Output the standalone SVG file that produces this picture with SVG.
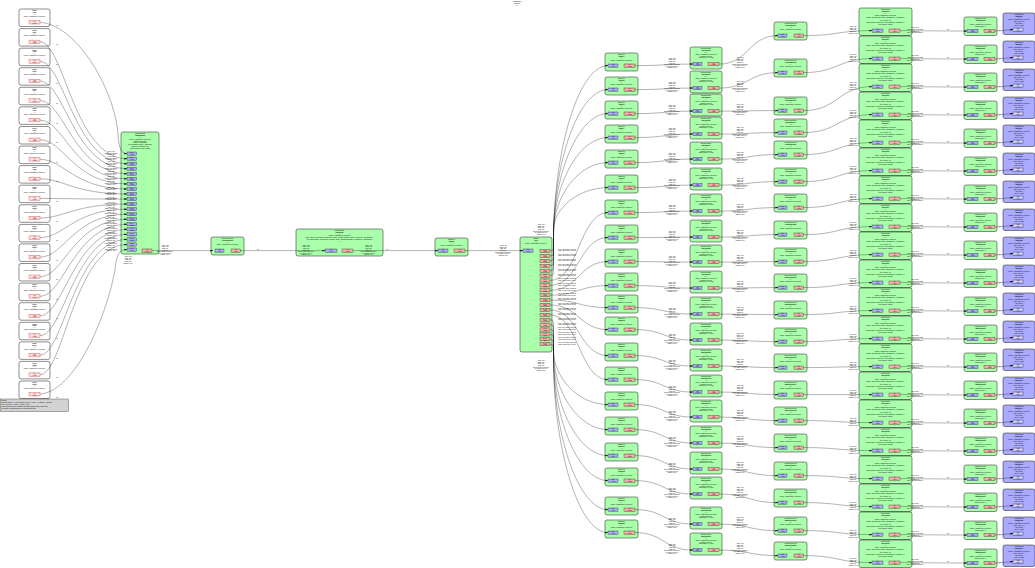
<svg xmlns="http://www.w3.org/2000/svg" width="1035" height="568" viewBox="0 0 1035 568">
<style>
.t{font-family:"Liberation Sans",Arial,sans-serif;font-size:1.6px;text-anchor:middle;fill:#000}
.s{font-size:1.3px}
.b{font-weight:bold}
.l{text-anchor:start;font-size:1.55px}
.nb{fill:#fff;stroke:#000;stroke-width:.45}
.ne{fill:#aaffaa;stroke:#000;stroke-width:.45}
.nk{fill:#aaaaff;stroke:#000;stroke-width:.45}
.ps{fill:#aaaaff;stroke:#000;stroke-width:.3}
.pk{fill:#ccccff;stroke:#000;stroke-width:.3}
.pr{fill:#ffaaaa;stroke:#000;stroke-width:.3}
.pg{fill:#ffdddd;stroke:#cc3333;stroke-width:.35}
</style>
<defs>
<marker id="ah" markerUnits="userSpaceOnUse" markerWidth="2.6" markerHeight="2" refX="2.6" refY="1" orient="auto" viewBox="0 0 2.6 2"><path d="M0,0L2.6,1L0,2z" fill="#000" stroke="none"/></marker>
<g id="tA"><rect class="nb" width="31" height="17.5" rx="2"/><text class="t" x="15.5" y="2.4">GstBin</text><text class="t" x="15.5" y="6">[&gt;]</text><text class="t" x="15.5" y="7.8">parent=(GstPipeline) pipeline0</text><rect class="pg" x="10" y="11.5" width="11" height="3.5"/><text class="t s" x="15.5" y="13">src</text><text class="t s" x="15.5" y="14.5">[&gt;][bfb]</text></g>
<g id="tB"><rect class="ne" width="33" height="18" rx="2"/><text class="t" x="16.5" y="2.4">GstQueue</text><text class="t" x="16.5" y="6">[&gt;]</text><text class="t" x="16.5" y="7.8">parent=(GstPipeline) pipeline0</text><rect class="ps" x="3" y="11" width="10" height="3.2"/><text class="t s" x="8" y="12.4">sink</text><text class="t s" x="8" y="13.8">[&gt;][bfb]</text><rect class="pr" x="19" y="11" width="11" height="3.2"/><text class="t s" x="24.5" y="12.4">src</text><text class="t s" x="24.5" y="13.8">[&gt;][bfbT]</text></g>
<g id="tC"><rect class="ne" width="32" height="22" rx="2"/><text class="t" x="16" y="2.4">GstVideoScale</text><text class="t" x="16" y="6">[&gt;]</text><text class="t" x="16" y="7.8">parent=(GstPipeline) pipeline0</text><text class="t" x="16" y="9.6">method=bilinear</text><text class="t" x="16" y="11.4">add-borders=FALSE</text><rect class="ps" x="3" y="15.5" width="9" height="3.2"/><text class="t s" x="7.5" y="16.9">sink</text><text class="t s" x="7.5" y="18.3">[&gt;][bfb]</text><rect class="pr" x="18" y="15.5" width="11" height="3.2"/><text class="t s" x="23.5" y="16.9">src</text><text class="t s" x="23.5" y="18.3">[&gt;][bfb]</text></g>
<g id="tD"><rect class="ne" width="33" height="18" rx="2"/><text class="t" x="16.5" y="2.4">GstVideoConvert</text><text class="t" x="16.5" y="6">[&gt;]</text><text class="t" x="16.5" y="7.8">parent=(GstPipeline) pipeline0</text><rect class="ps" x="4" y="12" width="9" height="3.2"/><text class="t s" x="8.5" y="13.4">sink</text><text class="t s" x="8.5" y="14.8">[&gt;][bfb]</text><rect class="pr" x="20" y="12" width="9.5" height="3.2"/><text class="t s" x="24.75" y="13.4">src</text><text class="t s" x="24.75" y="14.8">[&gt;][bfb]</text></g>
<g id="tE"><rect class="ne" width="53" height="27.5" rx="2"/><text class="t" x="26.5" y="2">GstX264Enc</text><text class="t" x="26.5" y="6.2">[&gt;]</text><text class="t" x="26.5" y="8.3">parent=(GstPipeline) pipeline0</text><text class="t" x="26.5" y="10.4">bitrate=2048  speed-preset=ultrafast  tune=zerolatency</text><text class="t" x="26.5" y="12.5">key-int-max=30</text><text class="t" x="26.5" y="14.6">option-string="scenecut=0:rc-lookahead=0:bframes=0"</text><text class="t" x="26.5" y="16.7">byte-stream=TRUE</text><rect class="ps" x="13" y="21" width="11" height="3.2"/><text class="t s" x="18.5" y="22.4">sink</text><text class="t s" x="18.5" y="23.8">[&gt;][bfb]</text><rect class="pr" x="30" y="21" width="11" height="3.2"/><text class="t s" x="35.5" y="22.4">src</text><text class="t s" x="35.5" y="23.8">[&gt;][bfb]</text></g>
<g id="tF"><rect class="ne" width="33" height="18.5" rx="2"/><text class="t" x="16.5" y="2.4">GstRtpH264Pay</text><text class="t" x="16.5" y="6">[&gt;]</text><text class="t" x="16.5" y="7.8">parent=(GstPipeline) pipeline0</text><text class="t" x="16.5" y="9.6">config-interval=1</text><rect class="ps" x="3" y="12.5" width="11" height="3.2"/><text class="t s" x="8.5" y="13.9">sink</text><text class="t s" x="8.5" y="15.3">[&gt;][bfb]</text><rect class="pr" x="20" y="12.5" width="11" height="3.2"/><text class="t s" x="25.5" y="13.9">src</text><text class="t s" x="25.5" y="15.3">[&gt;][bfb]</text></g>
<g id="tG"><rect class="nk" width="32" height="21.5" rx="2"/><text class="t" x="16" y="2">GstUDPSink</text><text class="t" x="16" y="5.6">[&gt;]</text><text class="t" x="16" y="7.4">parent=(GstPipeline) pipeline0</text><text class="t" x="16" y="9.2">host=127.0.0.1</text><text class="t" x="16" y="12.8">sync=FALSE</text><rect class="pk" x="10" y="15" width="10" height="3.2"/><text class="t s" x="15" y="16.4">sink</text><text class="t s" x="15" y="17.8">[&gt;][bfb]</text></g>
<g id="lA"><text class="t s" y="1.2">ANY</text></g>
<g id="lM"><text class="t s" y="1.2">video/x-raw</text><text class="t s" y="2.6">format: I420, 320x240</text><text class="t s" y="4">framerate: 30/1</text></g>
<g id="l2"><text class="t s" y="1.2">video/x-raw, format=(string)I420</text><text class="t s" y="2.6">width=(int)320, height=(int)240</text></g>
<g id="l7"><text class="t s" y="1.2">video/x-raw</text><text class="t s" y="2.8">format: I420</text><text class="t s" y="4.4">width: 320</text><text class="t s" y="6">height: 240</text><text class="t s" y="7.6">interlace-mode: progressive</text><text class="t s" y="9.2">pixel-aspect-ratio: 1/1</text><text class="t s" y="10.8">framerate: 30/1</text></g>
<g id="l5"><text class="t s" y="1.2">video/x-raw</text><text class="t s" y="2.8">format: I420</text><text class="t s" y="4.4">width: 320</text><text class="t s" y="6">height: 240</text><text class="t s" y="7.6">framerate: 30/1</text></g>
<g id="lH"><text class="t s" y="1.2">video/x-h264</text><text class="t s" y="2.8">stream-format: byte-stream</text><text class="t s" y="4.4">alignment: au</text><text class="t s" y="6">profile: constrained-baseline</text></g>
</defs>
<rect width="1035" height="568" fill="#fff"/>
<g id="title"><text class="t" x="517" y="2.2">&lt;GstPipeline&gt;</text><text class="t" x="517" y="3.9">pipeline0</text><text class="t" x="517" y="5.6">[&gt;]</text></g>

<g id="bin0" transform="translate(19,9)"><use href="#tA"/><text class="t b" x="15.5" y="4.2">bin0</text></g>
<g id="bin1" transform="translate(19,28.6)"><use href="#tA"/><text class="t b" x="15.5" y="4.2">bin1</text></g>
<g id="bin2" transform="translate(19,48.2)"><use href="#tA"/><text class="t b" x="15.5" y="4.2">bin2</text></g>
<g id="bin3" transform="translate(19,67.7)"><use href="#tA"/><text class="t b" x="15.5" y="4.2">bin3</text></g>
<g id="bin4" transform="translate(19,87.3)"><use href="#tA"/><text class="t b" x="15.5" y="4.2">bin4</text></g>
<g id="bin5" transform="translate(19,106.9)"><use href="#tA"/><text class="t b" x="15.5" y="4.2">bin5</text></g>
<g id="bin6" transform="translate(19,126.5)"><use href="#tA"/><text class="t b" x="15.5" y="4.2">bin6</text></g>
<g id="bin7" transform="translate(19,146.1)"><use href="#tA"/><text class="t b" x="15.5" y="4.2">bin7</text></g>
<g id="bin8" transform="translate(19,165.6)"><use href="#tA"/><text class="t b" x="15.5" y="4.2">bin8</text></g>
<g id="bin9" transform="translate(19,185.2)"><use href="#tA"/><text class="t b" x="15.5" y="4.2">bin9</text></g>
<g id="bin10" transform="translate(19,204.8)"><use href="#tA"/><text class="t b" x="15.5" y="4.2">bin10</text></g>
<g id="bin11" transform="translate(19,224.4)"><use href="#tA"/><text class="t b" x="15.5" y="4.2">bin11</text></g>
<g id="bin12" transform="translate(19,243.9)"><use href="#tA"/><text class="t b" x="15.5" y="4.2">bin12</text></g>
<g id="bin13" transform="translate(19,263.5)"><use href="#tA"/><text class="t b" x="15.5" y="4.2">bin13</text></g>
<g id="bin14" transform="translate(19,283.1)"><use href="#tA"/><text class="t b" x="15.5" y="4.2">bin14</text></g>
<g id="bin15" transform="translate(19,302.7)"><use href="#tA"/><text class="t b" x="15.5" y="4.2">bin15</text></g>
<g id="bin16" transform="translate(19,322.3)"><use href="#tA"/><text class="t b" x="15.5" y="4.2">bin16</text></g>
<g id="bin17" transform="translate(19,341.9)"><use href="#tA"/><text class="t b" x="15.5" y="4.2">bin17</text></g>
<g id="bin18" transform="translate(19,361.4)"><use href="#tA"/><text class="t b" x="15.5" y="4.2">bin18</text></g>
<g id="bin19" transform="translate(19,381)"><use href="#tA"/><text class="t b" x="15.5" y="4.2">bin19</text></g>

<g id="compositor0">
<rect class="ne" x="121" y="132" width="38" height="122" rx="2"/>
<text class="t" x="140" y="134.3">GstCompositor</text>
<text class="t b" x="140" y="136.1">compositor0</text>
<text class="t" x="140" y="137.9">[&gt;]</text>
<text class="t" x="140" y="139.7">parent=(GstPipeline) pipeline0</text>
<text class="t" x="140" y="141.5">background=black</text>
<text class="t" x="140" y="143.3">latency=33333333</text>
<text class="t" x="140" y="145.1">min-upstream-latency=33333333</text>
<text class="t" x="140" y="146.9">start-time-selection=first</text>
<text class="t" x="140" y="148.7">ignore-inactive-pads=TRUE</text>
<rect class="ps" x="127" y="152" width="9.5" height="3.2"/><text class="t s" x="131.75" y="153.4">sink_0</text><text class="t s" x="131.75" y="154.8">[&gt;][bfb]</text>
<rect class="ps" x="127" y="157.05" width="9.5" height="3.2"/><text class="t s" x="131.75" y="158.45">sink_1</text><text class="t s" x="131.75" y="159.85">[&gt;][bfb]</text>
<rect class="ps" x="127" y="162.1" width="9.5" height="3.2"/><text class="t s" x="131.75" y="163.5">sink_2</text><text class="t s" x="131.75" y="164.9">[&gt;][bfb]</text>
<rect class="ps" x="127" y="167.15" width="9.5" height="3.2"/><text class="t s" x="131.75" y="168.55">sink_3</text><text class="t s" x="131.75" y="169.95">[&gt;][bfb]</text>
<rect class="ps" x="127" y="172.2" width="9.5" height="3.2"/><text class="t s" x="131.75" y="173.6">sink_4</text><text class="t s" x="131.75" y="175">[&gt;][bfb]</text>
<rect class="ps" x="127" y="177.25" width="9.5" height="3.2"/><text class="t s" x="131.75" y="178.65">sink_5</text><text class="t s" x="131.75" y="180.05">[&gt;][bfb]</text>
<rect class="ps" x="127" y="182.3" width="9.5" height="3.2"/><text class="t s" x="131.75" y="183.7">sink_6</text><text class="t s" x="131.75" y="185.1">[&gt;][bfb]</text>
<rect class="ps" x="127" y="187.35" width="9.5" height="3.2"/><text class="t s" x="131.75" y="188.75">sink_7</text><text class="t s" x="131.75" y="190.15">[&gt;][bfb]</text>
<rect class="ps" x="127" y="192.4" width="9.5" height="3.2"/><text class="t s" x="131.75" y="193.8">sink_8</text><text class="t s" x="131.75" y="195.2">[&gt;][bfb]</text>
<rect class="ps" x="127" y="197.45" width="9.5" height="3.2"/><text class="t s" x="131.75" y="198.85">sink_9</text><text class="t s" x="131.75" y="200.25">[&gt;][bfb]</text>
<rect class="ps" x="127" y="202.5" width="9.5" height="3.2"/><text class="t s" x="131.75" y="203.9">sink_10</text><text class="t s" x="131.75" y="205.3">[&gt;][bfb]</text>
<rect class="ps" x="127" y="207.55" width="9.5" height="3.2"/><text class="t s" x="131.75" y="208.95">sink_11</text><text class="t s" x="131.75" y="210.35">[&gt;][bfb]</text>
<rect class="ps" x="127" y="212.6" width="9.5" height="3.2"/><text class="t s" x="131.75" y="214">sink_12</text><text class="t s" x="131.75" y="215.4">[&gt;][bfb]</text>
<rect class="ps" x="127" y="217.65" width="9.5" height="3.2"/><text class="t s" x="131.75" y="219.05">sink_13</text><text class="t s" x="131.75" y="220.45">[&gt;][bfb]</text>
<rect class="ps" x="127" y="222.7" width="9.5" height="3.2"/><text class="t s" x="131.75" y="224.1">sink_14</text><text class="t s" x="131.75" y="225.5">[&gt;][bfb]</text>
<rect class="ps" x="127" y="227.75" width="9.5" height="3.2"/><text class="t s" x="131.75" y="229.15">sink_15</text><text class="t s" x="131.75" y="230.55">[&gt;][bfb]</text>
<rect class="ps" x="127" y="232.8" width="9.5" height="3.2"/><text class="t s" x="131.75" y="234.2">sink_16</text><text class="t s" x="131.75" y="235.6">[&gt;][bfb]</text>
<rect class="ps" x="127" y="237.85" width="9.5" height="3.2"/><text class="t s" x="131.75" y="239.25">sink_17</text><text class="t s" x="131.75" y="240.65">[&gt;][bfb]</text>
<rect class="ps" x="127" y="242.9" width="9.5" height="3.2"/><text class="t s" x="131.75" y="244.3">sink_18</text><text class="t s" x="131.75" y="245.7">[&gt;][bfb]</text>
<rect class="ps" x="127" y="247.95" width="9.5" height="3.2"/><text class="t s" x="131.75" y="249.35">sink_19</text><text class="t s" x="131.75" y="250.75">[&gt;][bfb]</text>
<rect class="pr" x="142" y="249" width="10" height="3.2"/><text class="t s" x="147" y="250.4">src</text><text class="t s" x="147" y="251.8">[&gt;][bfbT]</text>
</g>

<g id="videoconvert0" transform="translate(211,237)"><use href="#tD"/><text class="t b" x="16.5" y="4.2">videoconvert0</text></g>
<g id="capsfilter0">
<rect class="ne" x="296" y="229" width="87" height="27" rx="2"/>
<text class="t" x="339.5" y="231">GstCapsFilter</text>
<text class="t b" x="339.5" y="232.8">capsfilter0</text>
<text class="t" x="339.5" y="234.6">[&gt;]</text>
<text class="t" x="339.5" y="236.4">parent=(GstPipeline) pipeline0</text>
<text class="t" x="339.5" y="238.2">caps=video/x-raw, format=(string)I420, width=(int)320, height=(int)240, framerate=(fraction)30/1,</text>
<text class="t" x="339.5" y="240">pixel-aspect-ratio=(fraction)1/1, interlace-mode=(string)progressive, colorimetry=(string)bt601</text>
<text class="t" x="339.5" y="241.8">[...]</text>
<rect class="ps" x="325" y="249" width="12" height="3.2"/><text class="t s" x="331" y="250.4">sink</text><text class="t s" x="331" y="251.8">[&gt;][bfb]</text>
<rect class="pr" x="342" y="249" width="11" height="3.2"/><text class="t s" x="347.5" y="250.4">src</text><text class="t s" x="347.5" y="251.8">[&gt;][bfb]</text>
</g>
<g id="queue0" transform="translate(435,238)"><use href="#tB"/><text class="t b" x="16.5" y="4.2">queue0</text></g>
<g id="tee0">
<rect class="ne" x="520" y="237" width="32" height="115" rx="2"/>
<text class="t" x="536" y="239">GstTee</text>
<text class="t b" x="536" y="240.8">tee0</text>
<text class="t" x="536" y="242.6">[&gt;]</text>
<text class="t" x="536" y="244.4">parent=(GstPipeline) pipeline0</text>
<rect class="ps" x="523" y="249" width="10" height="3.2"/><text class="t s" x="528" y="250.4">sink</text><text class="t s" x="528" y="251.8">[&gt;][bfb]</text>
<rect class="pr" x="540" y="249.5" width="10" height="3.2"/><text class="t s" x="545" y="250.9">src_0</text><text class="t s" x="545" y="252.3">[&gt;][bfb]</text>
<rect class="pr" x="540" y="254.4" width="10" height="3.2"/><text class="t s" x="545" y="255.8">src_1</text><text class="t s" x="545" y="257.2">[&gt;][bfb]</text>
<rect class="pr" x="540" y="259.3" width="10" height="3.2"/><text class="t s" x="545" y="260.7">src_2</text><text class="t s" x="545" y="262.1">[&gt;][bfb]</text>
<rect class="pr" x="540" y="264.2" width="10" height="3.2"/><text class="t s" x="545" y="265.6">src_3</text><text class="t s" x="545" y="267">[&gt;][bfb]</text>
<rect class="pr" x="540" y="269.1" width="10" height="3.2"/><text class="t s" x="545" y="270.5">src_4</text><text class="t s" x="545" y="271.9">[&gt;][bfb]</text>
<rect class="pr" x="540" y="274" width="10" height="3.2"/><text class="t s" x="545" y="275.4">src_5</text><text class="t s" x="545" y="276.8">[&gt;][bfb]</text>
<rect class="pr" x="540" y="278.9" width="10" height="3.2"/><text class="t s" x="545" y="280.3">src_6</text><text class="t s" x="545" y="281.7">[&gt;][bfb]</text>
<rect class="pr" x="540" y="283.8" width="10" height="3.2"/><text class="t s" x="545" y="285.2">src_7</text><text class="t s" x="545" y="286.6">[&gt;][bfb]</text>
<rect class="pr" x="540" y="288.7" width="10" height="3.2"/><text class="t s" x="545" y="290.1">src_8</text><text class="t s" x="545" y="291.5">[&gt;][bfb]</text>
<rect class="pr" x="540" y="293.6" width="10" height="3.2"/><text class="t s" x="545" y="295">src_9</text><text class="t s" x="545" y="296.4">[&gt;][bfb]</text>
<rect class="pr" x="540" y="298.5" width="10" height="3.2"/><text class="t s" x="545" y="299.9">src_10</text><text class="t s" x="545" y="301.3">[&gt;][bfb]</text>
<rect class="pr" x="540" y="303.4" width="10" height="3.2"/><text class="t s" x="545" y="304.8">src_11</text><text class="t s" x="545" y="306.2">[&gt;][bfb]</text>
<rect class="pr" x="540" y="308.3" width="10" height="3.2"/><text class="t s" x="545" y="309.7">src_12</text><text class="t s" x="545" y="311.1">[&gt;][bfb]</text>
<rect class="pr" x="540" y="313.2" width="10" height="3.2"/><text class="t s" x="545" y="314.6">src_13</text><text class="t s" x="545" y="316">[&gt;][bfb]</text>
<rect class="pr" x="540" y="318.1" width="10" height="3.2"/><text class="t s" x="545" y="319.5">src_14</text><text class="t s" x="545" y="320.9">[&gt;][bfb]</text>
<rect class="pr" x="540" y="323" width="10" height="3.2"/><text class="t s" x="545" y="324.4">src_15</text><text class="t s" x="545" y="325.8">[&gt;][bfb]</text>
<rect class="pr" x="540" y="327.9" width="10" height="3.2"/><text class="t s" x="545" y="329.3">src_16</text><text class="t s" x="545" y="330.7">[&gt;][bfb]</text>
<rect class="pr" x="540" y="332.8" width="10" height="3.2"/><text class="t s" x="545" y="334.2">src_17</text><text class="t s" x="545" y="335.6">[&gt;][bfb]</text>
<rect class="pr" x="540" y="337.7" width="10" height="3.2"/><text class="t s" x="545" y="339.1">src_18</text><text class="t s" x="545" y="340.5">[&gt;][bfb]</text>
<rect class="pr" x="540" y="342.6" width="10" height="3.2"/><text class="t s" x="545" y="344">src_19</text><text class="t s" x="545" y="345.4">[&gt;][bfb]</text>
</g>

<g id="queue1" transform="translate(605,53)"><use href="#tB"/><text class="t b" x="16.5" y="4.2">queue1</text></g>
<g id="queue2" transform="translate(605,77)"><use href="#tB"/><text class="t b" x="16.5" y="4.2">queue2</text></g>
<g id="queue3" transform="translate(605,101)"><use href="#tB"/><text class="t b" x="16.5" y="4.2">queue3</text></g>
<g id="queue4" transform="translate(605,125)"><use href="#tB"/><text class="t b" x="16.5" y="4.2">queue4</text></g>
<g id="queue5" transform="translate(605,150)"><use href="#tB"/><text class="t b" x="16.5" y="4.2">queue5</text></g>
<g id="queue6" transform="translate(605,175)"><use href="#tB"/><text class="t b" x="16.5" y="4.2">queue6</text></g>
<g id="queue7" transform="translate(605,200)"><use href="#tB"/><text class="t b" x="16.5" y="4.2">queue7</text></g>
<g id="queue8" transform="translate(605,225)"><use href="#tB"/><text class="t b" x="16.5" y="4.2">queue8</text></g>
<g id="queue9" transform="translate(605,249)"><use href="#tB"/><text class="t b" x="16.5" y="4.2">queue9</text></g>
<g id="queue10" transform="translate(605,273)"><use href="#tB"/><text class="t b" x="16.5" y="4.2">queue10</text></g>
<g id="queue11" transform="translate(605,295)"><use href="#tB"/><text class="t b" x="16.5" y="4.2">queue11</text></g>
<g id="queue12" transform="translate(605,317)"><use href="#tB"/><text class="t b" x="16.5" y="4.2">queue12</text></g>
<g id="queue13" transform="translate(605,343)"><use href="#tB"/><text class="t b" x="16.5" y="4.2">queue13</text></g>
<g id="queue14" transform="translate(605,367)"><use href="#tB"/><text class="t b" x="16.5" y="4.2">queue14</text></g>
<g id="queue15" transform="translate(605,392)"><use href="#tB"/><text class="t b" x="16.5" y="4.2">queue15</text></g>
<g id="queue16" transform="translate(605,417)"><use href="#tB"/><text class="t b" x="16.5" y="4.2">queue16</text></g>
<g id="queue17" transform="translate(605,443)"><use href="#tB"/><text class="t b" x="16.5" y="4.2">queue17</text></g>
<g id="queue18" transform="translate(605,468)"><use href="#tB"/><text class="t b" x="16.5" y="4.2">queue18</text></g>
<g id="queue19" transform="translate(605,497)"><use href="#tB"/><text class="t b" x="16.5" y="4.2">queue19</text></g>
<g id="queue20" transform="translate(605,520)"><use href="#tB"/><text class="t b" x="16.5" y="4.2">queue20</text></g>

<g id="videoscale0" transform="translate(690,47)"><use href="#tC"/><text class="t b" x="16" y="4.2">videoscale0</text></g>
<g id="videoscale1" transform="translate(690,71)"><use href="#tC"/><text class="t b" x="16" y="4.2">videoscale1</text></g>
<g id="videoscale2" transform="translate(690,94)"><use href="#tC"/><text class="t b" x="16" y="4.2">videoscale2</text></g>
<g id="videoscale3" transform="translate(690,117)"><use href="#tC"/><text class="t b" x="16" y="4.2">videoscale3</text></g>
<g id="videoscale4" transform="translate(690,142)"><use href="#tC"/><text class="t b" x="16" y="4.2">videoscale4</text></g>
<g id="videoscale5" transform="translate(690,168)"><use href="#tC"/><text class="t b" x="16" y="4.2">videoscale5</text></g>
<g id="videoscale6" transform="translate(690,194)"><use href="#tC"/><text class="t b" x="16" y="4.2">videoscale6</text></g>
<g id="videoscale7" transform="translate(690,220)"><use href="#tC"/><text class="t b" x="16" y="4.2">videoscale7</text></g>
<g id="videoscale8" transform="translate(690,245)"><use href="#tC"/><text class="t b" x="16" y="4.2">videoscale8</text></g>
<g id="videoscale9" transform="translate(690,271)"><use href="#tC"/><text class="t b" x="16" y="4.2">videoscale9</text></g>
<g id="videoscale10" transform="translate(690,297)"><use href="#tC"/><text class="t b" x="16" y="4.2">videoscale10</text></g>
<g id="videoscale11" transform="translate(690,323)"><use href="#tC"/><text class="t b" x="16" y="4.2">videoscale11</text></g>
<g id="videoscale12" transform="translate(690,349)"><use href="#tC"/><text class="t b" x="16" y="4.2">videoscale12</text></g>
<g id="videoscale13" transform="translate(690,375)"><use href="#tC"/><text class="t b" x="16" y="4.2">videoscale13</text></g>
<g id="videoscale14" transform="translate(690,400)"><use href="#tC"/><text class="t b" x="16" y="4.2">videoscale14</text></g>
<g id="videoscale15" transform="translate(690,426)"><use href="#tC"/><text class="t b" x="16" y="4.2">videoscale15</text></g>
<g id="videoscale16" transform="translate(690,452)"><use href="#tC"/><text class="t b" x="16" y="4.2">videoscale16</text></g>
<g id="videoscale17" transform="translate(690,477)"><use href="#tC"/><text class="t b" x="16" y="4.2">videoscale17</text></g>
<g id="videoscale18" transform="translate(690,507)"><use href="#tC"/><text class="t b" x="16" y="4.2">videoscale18</text></g>
<g id="videoscale19" transform="translate(690,533)"><use href="#tC"/><text class="t b" x="16" y="4.2">videoscale19</text></g>

<g id="videoconvert1" transform="translate(774,22)"><use href="#tD"/><text class="t b" x="16.5" y="4.2">videoconvert1</text></g>
<g id="videoconvert2" transform="translate(774,59)"><use href="#tD"/><text class="t b" x="16.5" y="4.2">videoconvert2</text></g>
<g id="videoconvert3" transform="translate(774,97)"><use href="#tD"/><text class="t b" x="16.5" y="4.2">videoconvert3</text></g>
<g id="videoconvert4" transform="translate(774,119)"><use href="#tD"/><text class="t b" x="16.5" y="4.2">videoconvert4</text></g>
<g id="videoconvert5" transform="translate(774,141)"><use href="#tD"/><text class="t b" x="16.5" y="4.2">videoconvert5</text></g>
<g id="videoconvert6" transform="translate(774,168)"><use href="#tD"/><text class="t b" x="16.5" y="4.2">videoconvert6</text></g>
<g id="videoconvert7" transform="translate(774,194)"><use href="#tD"/><text class="t b" x="16.5" y="4.2">videoconvert7</text></g>
<g id="videoconvert8" transform="translate(774,221)"><use href="#tD"/><text class="t b" x="16.5" y="4.2">videoconvert8</text></g>
<g id="videoconvert9" transform="translate(774,248)"><use href="#tD"/><text class="t b" x="16.5" y="4.2">videoconvert9</text></g>
<g id="videoconvert10" transform="translate(774,274)"><use href="#tD"/><text class="t b" x="16.5" y="4.2">videoconvert10</text></g>
<g id="videoconvert11" transform="translate(774,301)"><use href="#tD"/><text class="t b" x="16.5" y="4.2">videoconvert11</text></g>
<g id="videoconvert12" transform="translate(774,328)"><use href="#tD"/><text class="t b" x="16.5" y="4.2">videoconvert12</text></g>
<g id="videoconvert13" transform="translate(774,354)"><use href="#tD"/><text class="t b" x="16.5" y="4.2">videoconvert13</text></g>
<g id="videoconvert14" transform="translate(774,381)"><use href="#tD"/><text class="t b" x="16.5" y="4.2">videoconvert14</text></g>
<g id="videoconvert15" transform="translate(774,407)"><use href="#tD"/><text class="t b" x="16.5" y="4.2">videoconvert15</text></g>
<g id="videoconvert16" transform="translate(774,434)"><use href="#tD"/><text class="t b" x="16.5" y="4.2">videoconvert16</text></g>
<g id="videoconvert17" transform="translate(774,462)"><use href="#tD"/><text class="t b" x="16.5" y="4.2">videoconvert17</text></g>
<g id="videoconvert18" transform="translate(774,489)"><use href="#tD"/><text class="t b" x="16.5" y="4.2">videoconvert18</text></g>
<g id="videoconvert19" transform="translate(774,517)"><use href="#tD"/><text class="t b" x="16.5" y="4.2">videoconvert19</text></g>
<g id="videoconvert20" transform="translate(774,542)"><use href="#tD"/><text class="t b" x="16.5" y="4.2">videoconvert20</text></g>

<g id="x264enc0" transform="translate(859,8)"><use href="#tE"/><text class="t b" x="26.5" y="4.1">x264enc0</text></g>
<g id="x264enc1" transform="translate(859,36)"><use href="#tE"/><text class="t b" x="26.5" y="4.1">x264enc1</text></g>
<g id="x264enc2" transform="translate(859,64)"><use href="#tE"/><text class="t b" x="26.5" y="4.1">x264enc2</text></g>
<g id="x264enc3" transform="translate(859,92)"><use href="#tE"/><text class="t b" x="26.5" y="4.1">x264enc3</text></g>
<g id="x264enc4" transform="translate(859,120)"><use href="#tE"/><text class="t b" x="26.5" y="4.1">x264enc4</text></g>
<g id="x264enc5" transform="translate(859,148)"><use href="#tE"/><text class="t b" x="26.5" y="4.1">x264enc5</text></g>
<g id="x264enc6" transform="translate(859,176)"><use href="#tE"/><text class="t b" x="26.5" y="4.1">x264enc6</text></g>
<g id="x264enc7" transform="translate(859,204)"><use href="#tE"/><text class="t b" x="26.5" y="4.1">x264enc7</text></g>
<g id="x264enc8" transform="translate(859,232)"><use href="#tE"/><text class="t b" x="26.5" y="4.1">x264enc8</text></g>
<g id="x264enc9" transform="translate(859,260)"><use href="#tE"/><text class="t b" x="26.5" y="4.1">x264enc9</text></g>
<g id="x264enc10" transform="translate(859,288)"><use href="#tE"/><text class="t b" x="26.5" y="4.1">x264enc10</text></g>
<g id="x264enc11" transform="translate(859,316)"><use href="#tE"/><text class="t b" x="26.5" y="4.1">x264enc11</text></g>
<g id="x264enc12" transform="translate(859,344)"><use href="#tE"/><text class="t b" x="26.5" y="4.1">x264enc12</text></g>
<g id="x264enc13" transform="translate(859,372)"><use href="#tE"/><text class="t b" x="26.5" y="4.1">x264enc13</text></g>
<g id="x264enc14" transform="translate(859,400)"><use href="#tE"/><text class="t b" x="26.5" y="4.1">x264enc14</text></g>
<g id="x264enc15" transform="translate(859,428)"><use href="#tE"/><text class="t b" x="26.5" y="4.1">x264enc15</text></g>
<g id="x264enc16" transform="translate(859,456)"><use href="#tE"/><text class="t b" x="26.5" y="4.1">x264enc16</text></g>
<g id="x264enc17" transform="translate(859,484)"><use href="#tE"/><text class="t b" x="26.5" y="4.1">x264enc17</text></g>
<g id="x264enc18" transform="translate(859,512)"><use href="#tE"/><text class="t b" x="26.5" y="4.1">x264enc18</text></g>
<g id="x264enc19" transform="translate(859,540)"><use href="#tE"/><text class="t b" x="26.5" y="4.1">x264enc19</text></g>

<g id="rtph264pay0" transform="translate(964,17)"><use href="#tF"/><text class="t b" x="16.5" y="4.2">rtph264pay0</text></g>
<g id="rtph264pay1" transform="translate(964,45)"><use href="#tF"/><text class="t b" x="16.5" y="4.2">rtph264pay1</text></g>
<g id="rtph264pay2" transform="translate(964,73)"><use href="#tF"/><text class="t b" x="16.5" y="4.2">rtph264pay2</text></g>
<g id="rtph264pay3" transform="translate(964,101)"><use href="#tF"/><text class="t b" x="16.5" y="4.2">rtph264pay3</text></g>
<g id="rtph264pay4" transform="translate(964,129)"><use href="#tF"/><text class="t b" x="16.5" y="4.2">rtph264pay4</text></g>
<g id="rtph264pay5" transform="translate(964,157)"><use href="#tF"/><text class="t b" x="16.5" y="4.2">rtph264pay5</text></g>
<g id="rtph264pay6" transform="translate(964,185)"><use href="#tF"/><text class="t b" x="16.5" y="4.2">rtph264pay6</text></g>
<g id="rtph264pay7" transform="translate(964,213)"><use href="#tF"/><text class="t b" x="16.5" y="4.2">rtph264pay7</text></g>
<g id="rtph264pay8" transform="translate(964,241)"><use href="#tF"/><text class="t b" x="16.5" y="4.2">rtph264pay8</text></g>
<g id="rtph264pay9" transform="translate(964,269)"><use href="#tF"/><text class="t b" x="16.5" y="4.2">rtph264pay9</text></g>
<g id="rtph264pay10" transform="translate(964,297)"><use href="#tF"/><text class="t b" x="16.5" y="4.2">rtph264pay10</text></g>
<g id="rtph264pay11" transform="translate(964,325)"><use href="#tF"/><text class="t b" x="16.5" y="4.2">rtph264pay11</text></g>
<g id="rtph264pay12" transform="translate(964,353)"><use href="#tF"/><text class="t b" x="16.5" y="4.2">rtph264pay12</text></g>
<g id="rtph264pay13" transform="translate(964,381)"><use href="#tF"/><text class="t b" x="16.5" y="4.2">rtph264pay13</text></g>
<g id="rtph264pay14" transform="translate(964,409)"><use href="#tF"/><text class="t b" x="16.5" y="4.2">rtph264pay14</text></g>
<g id="rtph264pay15" transform="translate(964,437)"><use href="#tF"/><text class="t b" x="16.5" y="4.2">rtph264pay15</text></g>
<g id="rtph264pay16" transform="translate(964,465)"><use href="#tF"/><text class="t b" x="16.5" y="4.2">rtph264pay16</text></g>
<g id="rtph264pay17" transform="translate(964,493)"><use href="#tF"/><text class="t b" x="16.5" y="4.2">rtph264pay17</text></g>
<g id="rtph264pay18" transform="translate(964,521)"><use href="#tF"/><text class="t b" x="16.5" y="4.2">rtph264pay18</text></g>
<g id="rtph264pay19" transform="translate(964,549)"><use href="#tF"/><text class="t b" x="16.5" y="4.2">rtph264pay19</text></g>

<g id="udpsink0" transform="translate(1003,13)"><use href="#tG"/><text class="t b" x="16" y="3.8">udpsink0</text><text class="t" x="16" y="11">port=5000</text></g>
<g id="udpsink1" transform="translate(1003,41)"><use href="#tG"/><text class="t b" x="16" y="3.8">udpsink1</text><text class="t" x="16" y="11">port=5001</text></g>
<g id="udpsink2" transform="translate(1003,69)"><use href="#tG"/><text class="t b" x="16" y="3.8">udpsink2</text><text class="t" x="16" y="11">port=5002</text></g>
<g id="udpsink3" transform="translate(1003,97)"><use href="#tG"/><text class="t b" x="16" y="3.8">udpsink3</text><text class="t" x="16" y="11">port=5003</text></g>
<g id="udpsink4" transform="translate(1003,125)"><use href="#tG"/><text class="t b" x="16" y="3.8">udpsink4</text><text class="t" x="16" y="11">port=5004</text></g>
<g id="udpsink5" transform="translate(1003,153)"><use href="#tG"/><text class="t b" x="16" y="3.8">udpsink5</text><text class="t" x="16" y="11">port=5005</text></g>
<g id="udpsink6" transform="translate(1003,181)"><use href="#tG"/><text class="t b" x="16" y="3.8">udpsink6</text><text class="t" x="16" y="11">port=5006</text></g>
<g id="udpsink7" transform="translate(1003,209)"><use href="#tG"/><text class="t b" x="16" y="3.8">udpsink7</text><text class="t" x="16" y="11">port=5007</text></g>
<g id="udpsink8" transform="translate(1003,237)"><use href="#tG"/><text class="t b" x="16" y="3.8">udpsink8</text><text class="t" x="16" y="11">port=5008</text></g>
<g id="udpsink9" transform="translate(1003,265)"><use href="#tG"/><text class="t b" x="16" y="3.8">udpsink9</text><text class="t" x="16" y="11">port=5009</text></g>
<g id="udpsink10" transform="translate(1003,293)"><use href="#tG"/><text class="t b" x="16" y="3.8">udpsink10</text><text class="t" x="16" y="11">port=5010</text></g>
<g id="udpsink11" transform="translate(1003,321)"><use href="#tG"/><text class="t b" x="16" y="3.8">udpsink11</text><text class="t" x="16" y="11">port=5011</text></g>
<g id="udpsink12" transform="translate(1003,349)"><use href="#tG"/><text class="t b" x="16" y="3.8">udpsink12</text><text class="t" x="16" y="11">port=5012</text></g>
<g id="udpsink13" transform="translate(1003,377)"><use href="#tG"/><text class="t b" x="16" y="3.8">udpsink13</text><text class="t" x="16" y="11">port=5013</text></g>
<g id="udpsink14" transform="translate(1003,405)"><use href="#tG"/><text class="t b" x="16" y="3.8">udpsink14</text><text class="t" x="16" y="11">port=5014</text></g>
<g id="udpsink15" transform="translate(1003,433)"><use href="#tG"/><text class="t b" x="16" y="3.8">udpsink15</text><text class="t" x="16" y="11">port=5015</text></g>
<g id="udpsink16" transform="translate(1003,461)"><use href="#tG"/><text class="t b" x="16" y="3.8">udpsink16</text><text class="t" x="16" y="11">port=5016</text></g>
<g id="udpsink17" transform="translate(1003,489)"><use href="#tG"/><text class="t b" x="16" y="3.8">udpsink17</text><text class="t" x="16" y="11">port=5017</text></g>
<g id="udpsink18" transform="translate(1003,517)"><use href="#tG"/><text class="t b" x="16" y="3.8">udpsink18</text><text class="t" x="16" y="11">port=5018</text></g>
<g id="udpsink19" transform="translate(1003,545)"><use href="#tG"/><text class="t b" x="16" y="3.8">udpsink19</text><text class="t" x="16" y="11">port=5019</text></g>

<g id="connectors" fill="none" stroke="#000" stroke-width=".3" marker-end="url(#ah)">
<path d="M40,22.25C80,26 116,95 118,135C119,148 121,153.6 127,153.6"/>
<path d="M40,41.85C64,41.85 74,158.65 127,158.65"/>
<path d="M40,61.45C64,61.45 74,163.7 127,163.7"/>
<path d="M40,80.95C64,80.95 74,168.75 127,168.75"/>
<path d="M40,100.55C64,100.55 74,173.8 127,173.8"/>
<path d="M40,120.15C64,120.15 74,178.85 127,178.85"/>
<path d="M40,139.75C64,139.75 74,183.9 127,183.9"/>
<path d="M40,159.35C64,159.35 74,188.95 127,188.95"/>
<path d="M40,178.85C64,178.85 74,194 127,194"/>
<path d="M40,198.45C64,198.45 74,199.05 127,199.05"/>
<path d="M40,218.05C64,218.05 74,204.1 127,204.1"/>
<path d="M40,237.65C64,237.65 74,209.15 127,209.15"/>
<path d="M40,257.15C64,257.15 74,214.2 127,214.2"/>
<path d="M40,276.75C64,276.75 74,219.25 127,219.25"/>
<path d="M40,296.35C64,296.35 74,224.3 127,224.3"/>
<path d="M40,315.95C64,315.95 74,229.35 127,229.35"/>
<path d="M40,335.55C64,335.55 74,234.4 127,234.4"/>
<path d="M40,355.15C64,355.15 74,239.45 127,239.45"/>
<path d="M40,374.65C64,374.65 74,244.5 127,244.5"/>
<path d="M40,394.25C80,390 112,300 116,262C118,252 121,249.55 127,249.55"/>
<path d="M152,250.6L213,250.6"/>
<path d="M240.5,250.6L325,250.6"/>
<path d="M353,250.6L438,250.6"/>
<path d="M465,250.6L523,250.6"/>
<path d="M550,251.1Q553.5,251.1 553.5,248.1L553.5,240C553.5,152.8 578,65.6 608,65.6"/>
<path d="M550,256Q553.5,256 553.5,253L553.5,238C553.5,163.8 578,89.6 608,89.6"/>
<path d="M550,260.9Q553.5,260.9 553.5,257.9L553.5,236C553.5,174.8 578,113.6 608,113.6"/>
<path d="M550,265.8Q553.5,265.8 553.5,262.8L553.5,234C553.5,185.8 578,137.6 608,137.6"/>
<path d="M550,270.7Q553.5,270.7 553.5,267.7L553.5,232C553.5,197.3 578,162.6 608,162.6"/>
<path d="M550,275.6Q553.5,275.6 553.5,272.6L553.5,230C553.5,208.8 578,187.6 608,187.6"/>
<path d="M550,280.5C579,280.5 579,212.6 608,212.6"/>
<path d="M550,285.4C579,285.4 579,237.6 608,237.6"/>
<path d="M550,290.3C579,290.3 579,261.6 608,261.6"/>
<path d="M550,295.2C579,295.2 579,285.6 608,285.6"/>
<path d="M550,300.1C579,300.1 579,307.6 608,307.6"/>
<path d="M550,305C579,305 579,329.6 608,329.6"/>
<path d="M550,309.9C579,309.9 579,355.6 608,355.6"/>
<path d="M550,314.8C579,314.8 579,379.6 608,379.6"/>
<path d="M550,319.7Q553.5,319.7 553.5,322.7L553.5,350C553.5,377.3 578,404.6 608,404.6"/>
<path d="M550,324.6Q553.5,324.6 553.5,327.6L553.5,352C553.5,390.8 578,429.6 608,429.6"/>
<path d="M550,329.5Q553.5,329.5 553.5,332.5L553.5,354C553.5,404.8 578,455.6 608,455.6"/>
<path d="M550,334.4Q553.5,334.4 553.5,337.4L553.5,356C553.5,418.3 578,480.6 608,480.6"/>
<path d="M550,339.3Q553.5,339.3 553.5,342.3L553.5,358C553.5,433.8 578,509.6 608,509.6"/>
<path d="M550,344.2Q553.5,344.2 553.5,347.2L553.5,360C553.5,446.3 578,532.6 608,532.6"/>
<path d="M635,65.6C664,65.6 664,64.1 693,64.1"/>
<path d="M635,89.6C664,89.6 664,88.1 693,88.1"/>
<path d="M635,113.6C664,113.6 664,111.1 693,111.1"/>
<path d="M635,137.6C664,137.6 664,134.1 693,134.1"/>
<path d="M635,162.6C664,162.6 664,159.1 693,159.1"/>
<path d="M635,187.6C664,187.6 664,185.1 693,185.1"/>
<path d="M635,212.6C664,212.6 664,211.1 693,211.1"/>
<path d="M635,237.6C664,237.6 664,237.1 693,237.1"/>
<path d="M635,261.6C664,261.6 664,262.1 693,262.1"/>
<path d="M635,285.6C664,285.6 664,288.1 693,288.1"/>
<path d="M635,307.6C664,307.6 664,314.1 693,314.1"/>
<path d="M635,329.6C664,329.6 664,340.1 693,340.1"/>
<path d="M635,355.6C664,355.6 664,366.1 693,366.1"/>
<path d="M635,379.6C664,379.6 664,392.1 693,392.1"/>
<path d="M635,404.6C664,404.6 664,417.1 693,417.1"/>
<path d="M635,429.6C664,429.6 664,443.1 693,443.1"/>
<path d="M635,455.6C664,455.6 664,469.1 693,469.1"/>
<path d="M635,480.6C664,480.6 664,494.1 693,494.1"/>
<path d="M635,509.6C664,509.6 664,524.1 693,524.1"/>
<path d="M635,532.6C664,532.6 664,550.1 693,550.1"/>
<path d="M719,64.1C748.5,64.1 748.5,35.6 778,35.6"/>
<path d="M719,88.1C748.5,88.1 748.5,72.6 778,72.6"/>
<path d="M719,111.1C748.5,111.1 748.5,110.6 778,110.6"/>
<path d="M719,134.1C748.5,134.1 748.5,132.6 778,132.6"/>
<path d="M719,159.1C748.5,159.1 748.5,154.6 778,154.6"/>
<path d="M719,185.1C748.5,185.1 748.5,181.6 778,181.6"/>
<path d="M719,211.1C748.5,211.1 748.5,207.6 778,207.6"/>
<path d="M719,237.1C748.5,237.1 748.5,234.6 778,234.6"/>
<path d="M719,262.1C748.5,262.1 748.5,261.6 778,261.6"/>
<path d="M719,288.1C748.5,288.1 748.5,287.6 778,287.6"/>
<path d="M719,314.1C748.5,314.1 748.5,314.6 778,314.6"/>
<path d="M719,340.1C748.5,340.1 748.5,341.6 778,341.6"/>
<path d="M719,366.1C748.5,366.1 748.5,367.6 778,367.6"/>
<path d="M719,392.1C748.5,392.1 748.5,394.6 778,394.6"/>
<path d="M719,417.1C748.5,417.1 748.5,420.6 778,420.6"/>
<path d="M719,443.1C748.5,443.1 748.5,447.6 778,447.6"/>
<path d="M719,469.1C748.5,469.1 748.5,475.6 778,475.6"/>
<path d="M719,494.1C748.5,494.1 748.5,502.6 778,502.6"/>
<path d="M719,524.1C748.5,524.1 748.5,530.6 778,530.6"/>
<path d="M719,550.1C748.5,550.1 748.5,555.6 778,555.6"/>
<path d="M803.5,35.6C838,35.6 838,30.6 872,30.6"/>
<path d="M803.5,72.6C838,72.6 838,58.6 872,58.6"/>
<path d="M803.5,110.6C838,110.6 838,86.6 872,86.6"/>
<path d="M803.5,132.6C838,132.6 838,114.6 872,114.6"/>
<path d="M803.5,154.6C838,154.6 838,142.6 872,142.6"/>
<path d="M803.5,181.6C838,181.6 838,170.6 872,170.6"/>
<path d="M803.5,207.6C838,207.6 838,198.6 872,198.6"/>
<path d="M803.5,234.6C838,234.6 838,226.6 872,226.6"/>
<path d="M803.5,261.6C838,261.6 838,254.6 872,254.6"/>
<path d="M803.5,287.6C838,287.6 838,282.6 872,282.6"/>
<path d="M803.5,314.6C838,314.6 838,310.6 872,310.6"/>
<path d="M803.5,341.6C838,341.6 838,338.6 872,338.6"/>
<path d="M803.5,367.6C838,367.6 838,366.6 872,366.6"/>
<path d="M803.5,394.6C838,394.6 838,394.6 872,394.6"/>
<path d="M803.5,420.6C838,420.6 838,422.6 872,422.6"/>
<path d="M803.5,447.6C838,447.6 838,450.6 872,450.6"/>
<path d="M803.5,475.6C838,475.6 838,478.6 872,478.6"/>
<path d="M803.5,502.6C838,502.6 838,506.6 872,506.6"/>
<path d="M803.5,530.6C838,530.6 838,534.6 872,534.6"/>
<path d="M803.5,555.6C838,555.6 838,562.6 872,562.6"/>
<path d="M900,30.6L967,31.1"/>
<path d="M900,58.6L967,59.1"/>
<path d="M900,86.6L967,87.1"/>
<path d="M900,114.6L967,115.1"/>
<path d="M900,142.6L967,143.1"/>
<path d="M900,170.6L967,171.1"/>
<path d="M900,198.6L967,199.1"/>
<path d="M900,226.6L967,227.1"/>
<path d="M900,254.6L967,255.1"/>
<path d="M900,282.6L967,283.1"/>
<path d="M900,310.6L967,311.1"/>
<path d="M900,338.6L967,339.1"/>
<path d="M900,366.6L967,367.1"/>
<path d="M900,394.6L967,395.1"/>
<path d="M900,422.6L967,423.1"/>
<path d="M900,450.6L967,451.1"/>
<path d="M900,478.6L967,479.1"/>
<path d="M900,506.6L967,507.1"/>
<path d="M900,534.6L967,535.1"/>
<path d="M900,562.6L967,563.1"/>
<path d="M995,31.1L1013,29.6"/>
<path d="M995,59.1L1013,57.6"/>
<path d="M995,87.1L1013,85.6"/>
<path d="M995,115.1L1013,113.6"/>
<path d="M995,143.1L1013,141.6"/>
<path d="M995,171.1L1013,169.6"/>
<path d="M995,199.1L1013,197.6"/>
<path d="M995,227.1L1013,225.6"/>
<path d="M995,255.1L1013,253.6"/>
<path d="M995,283.1L1013,281.6"/>
<path d="M995,311.1L1013,309.6"/>
<path d="M995,339.1L1013,337.6"/>
<path d="M995,367.1L1013,365.6"/>
<path d="M995,395.1L1013,393.6"/>
<path d="M995,423.1L1013,421.6"/>
<path d="M995,451.1L1013,449.6"/>
<path d="M995,479.1L1013,477.6"/>
<path d="M995,507.1L1013,505.6"/>
<path d="M995,535.1L1013,533.6"/>
<path d="M995,563.1L1013,561.6"/>
</g>

<g id="edge-labels">
<use href="#lA" x="57" y="24.55"/><use href="#lA" x="57" y="44.15"/><use href="#lA" x="57" y="63.75"/><use href="#lA" x="57" y="83.25"/><use href="#lA" x="57" y="102.85"/>
<use href="#lA" x="57" y="122.45"/><use href="#lA" x="57" y="142.05"/><use href="#lA" x="57" y="161.65"/><use href="#lA" x="57" y="181.15"/><use href="#lA" x="57" y="200.75"/>
<use href="#lA" x="57" y="220.35"/><use href="#lA" x="57" y="239.95"/><use href="#lA" x="57" y="259.45"/><use href="#lA" x="57" y="279.05"/><use href="#lA" x="57" y="298.65"/>
<use href="#lA" x="57" y="318.25"/><use href="#lA" x="57" y="337.85"/><use href="#lA" x="57" y="357.45"/><use href="#lA" x="57" y="376.95"/><use href="#lA" x="57" y="396.55"/>
<use href="#lM" x="111" y="151"/><use href="#lM" x="111" y="156.05"/><use href="#lM" x="111" y="161.1"/><use href="#lM" x="111" y="166.15"/><use href="#lM" x="111" y="171.2"/>
<use href="#lM" x="111" y="176.25"/><use href="#lM" x="111" y="181.3"/><use href="#lM" x="111" y="186.35"/><use href="#lM" x="111" y="191.4"/><use href="#lM" x="111" y="196.45"/>
<use href="#lM" x="111" y="201.5"/><use href="#lM" x="111" y="206.55"/><use href="#lM" x="111" y="211.6"/><use href="#lM" x="111" y="216.65"/><use href="#lM" x="111" y="221.7"/>
<use href="#lM" x="111" y="226.75"/><use href="#lM" x="111" y="231.8"/><use href="#lM" x="111" y="236.85"/><use href="#lM" x="111" y="241.9"/><use href="#lM" x="111" y="246.95"/>
<use href="#l5" x="128" y="256"/>
<use href="#l7" x="165" y="244.5"/>
<use href="#lA" x="258" y="249.2"/>
<use href="#l7" x="306" y="244.5"/>
<use href="#l7" x="368.5" y="244.5"/>
<use href="#lA" x="387" y="249.2"/>
<use href="#l7" x="503" y="245"/>
<use href="#l7" x="541" y="224"/>
<use href="#l7" x="541" y="360"/>
<use href="#l2" x="567" y="248.9"/><use href="#l2" x="567" y="253.8"/><use href="#l2" x="567" y="258.7"/><use href="#l2" x="567" y="263.6"/><use href="#l2" x="567" y="268.5"/>
<use href="#l2" x="567" y="273.4"/><use href="#l2" x="567" y="278.3"/><use href="#l2" x="567" y="283.2"/><use href="#l2" x="567" y="288.1"/><use href="#l2" x="567" y="293"/>
<use href="#l2" x="567" y="297.9"/><use href="#l2" x="567" y="302.8"/><use href="#l2" x="567" y="307.7"/><use href="#l2" x="567" y="312.6"/><use href="#l2" x="567" y="317.5"/>
<use href="#l2" x="567" y="322.4"/><use href="#l2" x="567" y="327.3"/><use href="#l2" x="567" y="332.2"/><use href="#l2" x="567" y="337.1"/><use href="#l2" x="567" y="342"/>
<use href="#l7" x="672" y="57.6"/><use href="#l7" x="672" y="81.6"/><use href="#l7" x="672" y="104.6"/><use href="#l7" x="672" y="127.6"/><use href="#l7" x="672" y="152.6"/>
<use href="#l7" x="672" y="178.6"/><use href="#l7" x="672" y="204.6"/><use href="#l7" x="672" y="230.6"/><use href="#l7" x="672" y="255.6"/><use href="#l7" x="672" y="281.6"/>
<use href="#l7" x="672" y="307.6"/><use href="#l7" x="672" y="333.6"/><use href="#l7" x="672" y="359.6"/><use href="#l7" x="672" y="385.6"/><use href="#l7" x="672" y="410.6"/>
<use href="#l7" x="672" y="436.6"/><use href="#l7" x="672" y="462.6"/><use href="#l7" x="672" y="487.6"/><use href="#l7" x="672" y="517.6"/><use href="#l7" x="672" y="543.6"/>
<use href="#l7" x="740" y="57.1"/><use href="#l7" x="740" y="81.1"/><use href="#l7" x="740" y="104.1"/><use href="#l7" x="740" y="127.1"/><use href="#l7" x="740" y="152.1"/>
<use href="#l7" x="740" y="178.1"/><use href="#l7" x="740" y="204.1"/><use href="#l7" x="740" y="230.1"/><use href="#l7" x="740" y="255.1"/><use href="#l7" x="740" y="281.1"/>
<use href="#l7" x="740" y="307.1"/><use href="#l7" x="740" y="333.1"/><use href="#l7" x="740" y="359.1"/><use href="#l7" x="740" y="385.1"/><use href="#l7" x="740" y="410.1"/>
<use href="#l7" x="740" y="436.1"/><use href="#l7" x="740" y="462.1"/><use href="#l7" x="740" y="487.1"/><use href="#l7" x="740" y="517.1"/><use href="#l7" x="740" y="543.1"/>
<use href="#l5" x="853" y="26.1"/><use href="#l5" x="853" y="54.1"/><use href="#l5" x="853" y="82.1"/><use href="#l5" x="853" y="110.1"/><use href="#l5" x="853" y="138.1"/>
<use href="#l5" x="853" y="166.1"/><use href="#l5" x="853" y="194.1"/><use href="#l5" x="853" y="222.1"/><use href="#l5" x="853" y="250.1"/><use href="#l5" x="853" y="278.1"/>
<use href="#l5" x="853" y="306.1"/><use href="#l5" x="853" y="334.1"/><use href="#l5" x="853" y="362.1"/><use href="#l5" x="853" y="390.1"/><use href="#l5" x="853" y="418.1"/>
<use href="#l5" x="853" y="446.1"/><use href="#l5" x="853" y="474.1"/><use href="#l5" x="853" y="502.1"/><use href="#l5" x="853" y="530.1"/><use href="#l5" x="853" y="558.1"/>
<use href="#lH" x="915" y="27.2"/><use href="#lH" x="915" y="55.2"/><use href="#lH" x="915" y="83.2"/><use href="#lH" x="915" y="111.2"/><use href="#lH" x="915" y="139.2"/>
<use href="#lH" x="915" y="167.2"/><use href="#lH" x="915" y="195.2"/><use href="#lH" x="915" y="223.2"/><use href="#lH" x="915" y="251.2"/><use href="#lH" x="915" y="279.2"/>
<use href="#lH" x="915" y="307.2"/><use href="#lH" x="915" y="335.2"/><use href="#lH" x="915" y="363.2"/><use href="#lH" x="915" y="391.2"/><use href="#lH" x="915" y="419.2"/>
<use href="#lH" x="915" y="447.2"/><use href="#lH" x="915" y="475.2"/><use href="#lH" x="915" y="503.2"/><use href="#lH" x="915" y="531.2"/><use href="#lH" x="915" y="559.2"/>
<use href="#lA" x="948" y="29.3"/><use href="#lA" x="948" y="57.3"/><use href="#lA" x="948" y="85.3"/><use href="#lA" x="948" y="113.3"/><use href="#lA" x="948" y="141.3"/>
<use href="#lA" x="948" y="169.3"/><use href="#lA" x="948" y="197.3"/><use href="#lA" x="948" y="225.3"/><use href="#lA" x="948" y="253.3"/><use href="#lA" x="948" y="281.3"/>
<use href="#lA" x="948" y="309.3"/><use href="#lA" x="948" y="337.3"/><use href="#lA" x="948" y="365.3"/><use href="#lA" x="948" y="393.3"/><use href="#lA" x="948" y="421.3"/>
<use href="#lA" x="948" y="449.3"/><use href="#lA" x="948" y="477.3"/><use href="#lA" x="948" y="505.3"/><use href="#lA" x="948" y="533.3"/><use href="#lA" x="948" y="561.3"/>
<use href="#lA" x="999.5" y="29.8"/><use href="#lA" x="999.5" y="57.8"/><use href="#lA" x="999.5" y="85.8"/><use href="#lA" x="999.5" y="113.8"/><use href="#lA" x="999.5" y="141.8"/>
<use href="#lA" x="999.5" y="169.8"/><use href="#lA" x="999.5" y="197.8"/><use href="#lA" x="999.5" y="225.8"/><use href="#lA" x="999.5" y="253.8"/><use href="#lA" x="999.5" y="281.8"/>
<use href="#lA" x="999.5" y="309.8"/><use href="#lA" x="999.5" y="337.8"/><use href="#lA" x="999.5" y="365.8"/><use href="#lA" x="999.5" y="393.8"/><use href="#lA" x="999.5" y="421.8"/>
<use href="#lA" x="999.5" y="449.8"/><use href="#lA" x="999.5" y="477.8"/><use href="#lA" x="999.5" y="505.8"/><use href="#lA" x="999.5" y="533.8"/><use href="#lA" x="999.5" y="561.8"/>
</g>

<g id="legend">
<rect x="0.5" y="399" width="68" height="12.5" fill="#d3d3d3" stroke="#000" stroke-width=".3"/>
<text class="t l" x="1.5" y="401.2">Legend</text>
<text class="t l" x="1.5" y="403.2">Element-States: [~] void-pending, [0] null, [-] ready, [=] paused, [&gt;] playing</text>
<text class="t l" x="1.5" y="405.2">Pad-Activation: [-] none, [&gt;] push, [&lt;] pull</text>
<text class="t l" x="1.5" y="407.2">Pad-Flags: [b]locked, [f]lushing, [b]locking, [E]OS; upper-case is set</text>
<text class="t l" x="1.5" y="409.2">Pad-Task: [T] has started task, [t] has paused task</text>
</g>
</svg>
